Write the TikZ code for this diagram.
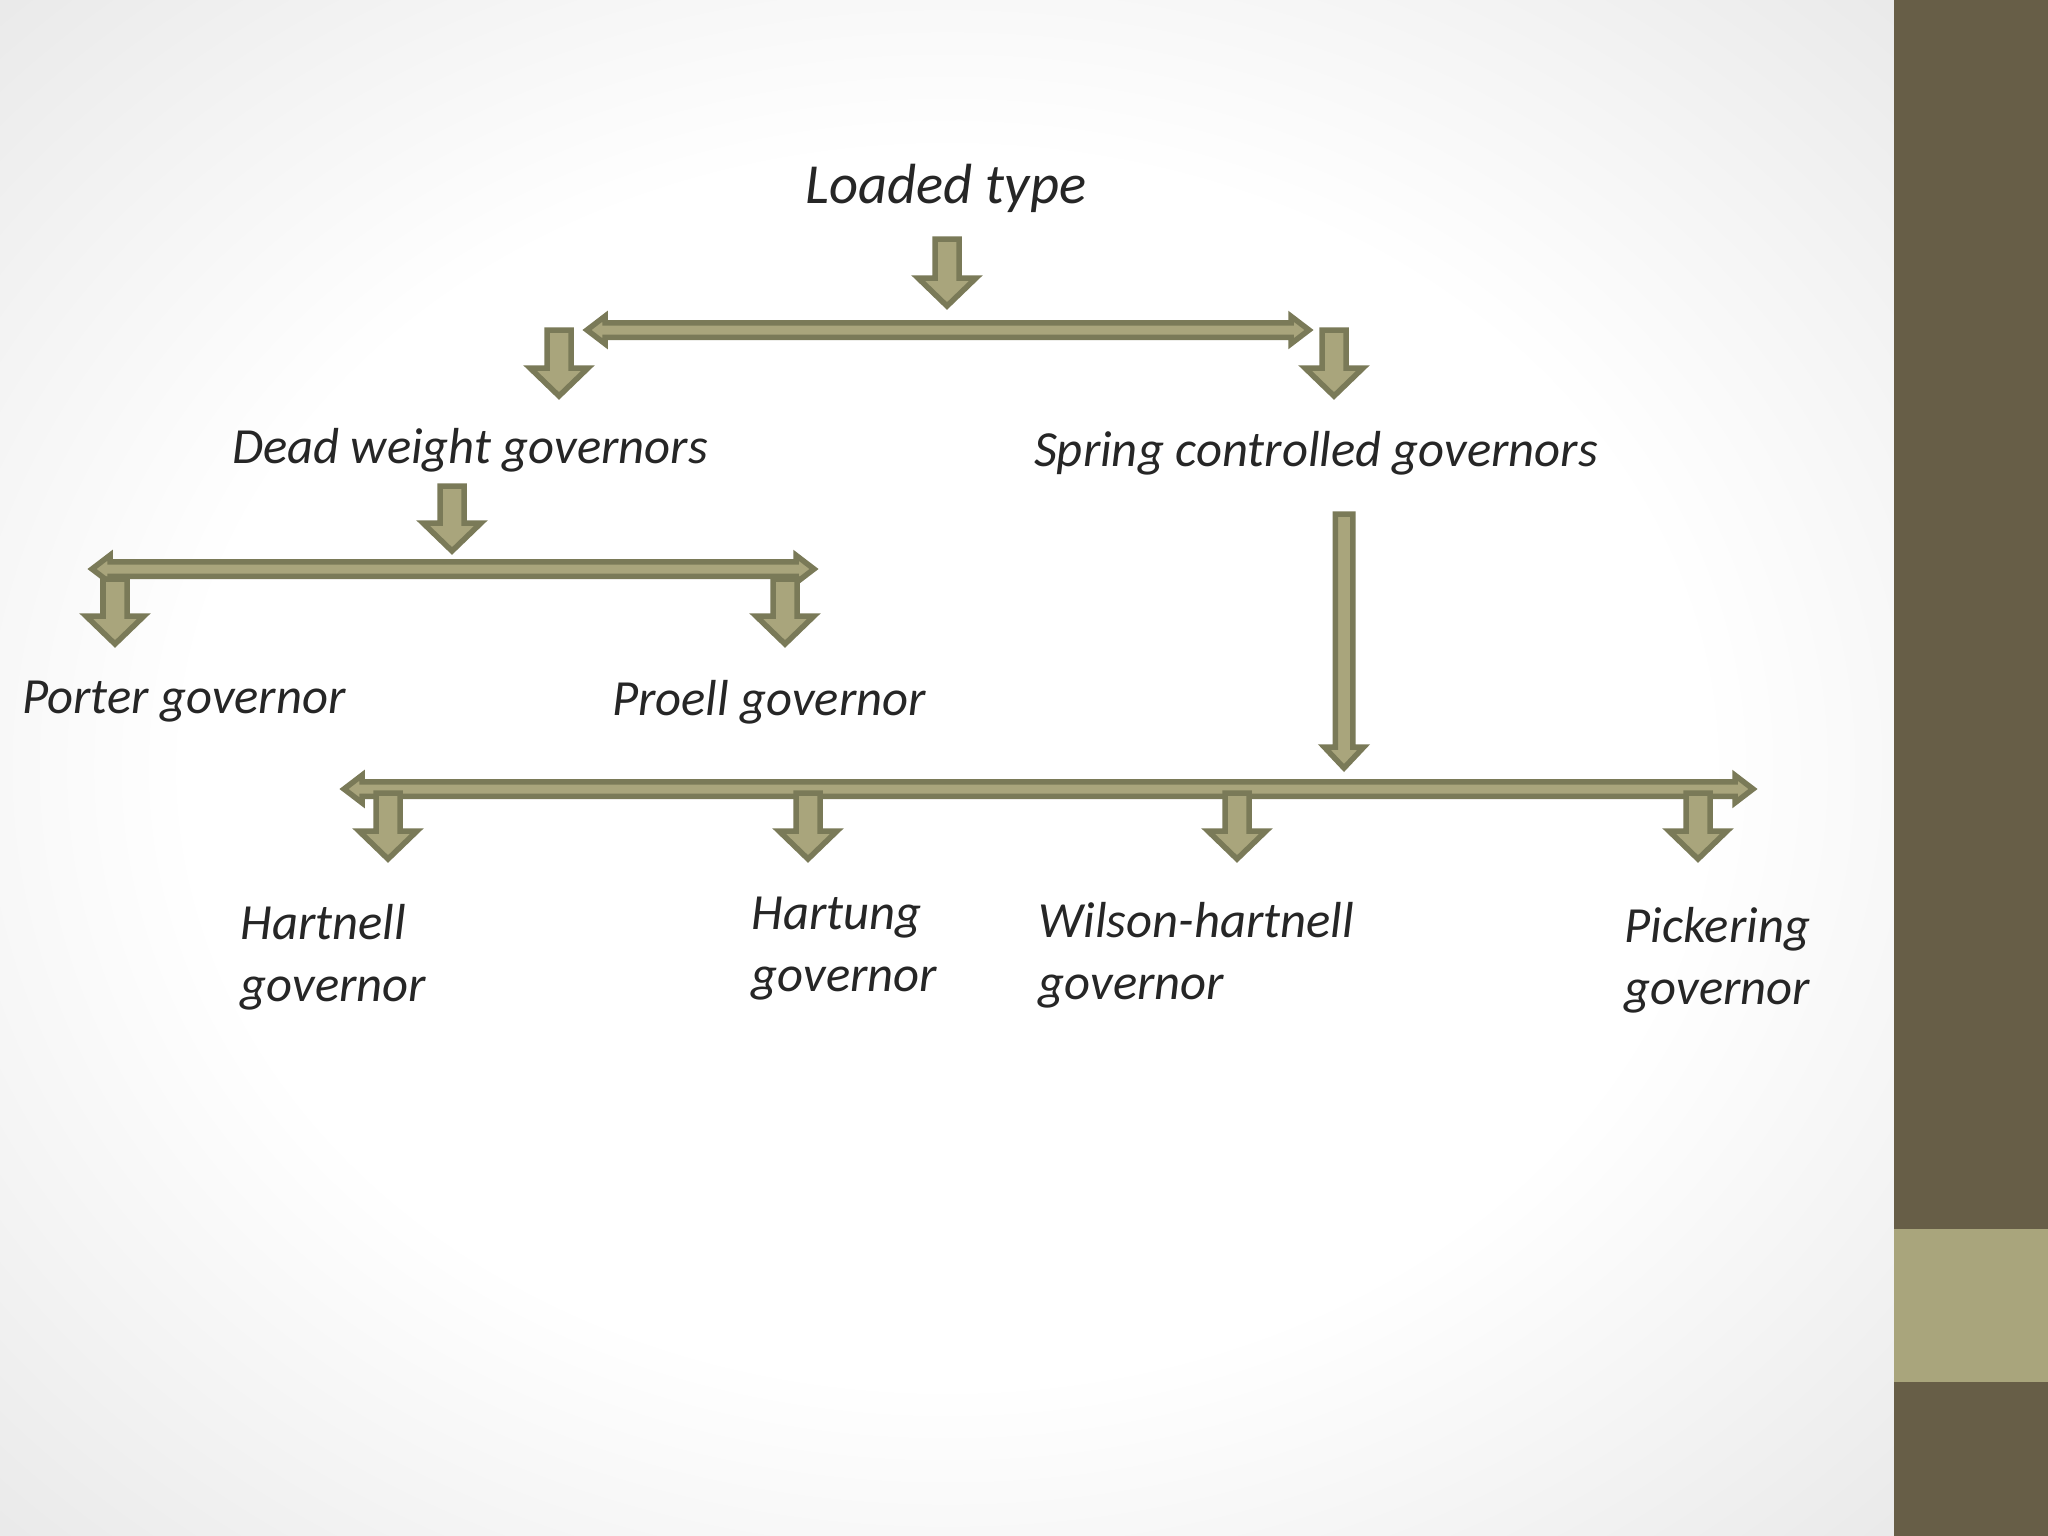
\documentclass[tikz,border=0pt]{standalone}
\usepackage{fontspec}
\setmainfont{Carlito}
\usepackage{xcolor}
\usepackage{tikz}
\usetikzlibrary{
  positioning,
  calc
}
\definecolor{armfill}{HTML}{A9A57C}
\definecolor{armline}{HTML}{7A7A58}
\definecolor{sidedark}{HTML}{675E47}
\definecolor{sidelight}{HTML}{A9A57C}
\definecolor{bggray}{HTML}{E6E6E6}
\definecolor{labeltext}{HTML}{262626}
\pgfdeclareradialshading{slideglow}{\pgfpoint{0bp}{0bp}}{color(0bp)=(white); color(20bp)=(white); color(38bp)=(bggray); color(50bp)=(bggray)}

\tikzset{
  blockarrow/.style={fill=armfill, draw=armline, line width=0.055cm},
  label/.style={font=\fontsize{14.4}{17.6}\selectfont\itshape, text=labeltext, inner sep=0pt},
  toplabel/.style={label, font=\fontsize{16.1}{19.4}\selectfont\itshape}
}

% down block arrow: top point, length
\newcommand{\downblock}[2]{%
  \draw[blockarrow] (#1) ++(-12,0) -- ++(0,#2-28) -- ++(-17,0) -- ++(29,28)
    -- ++(29,-28) -- ++(-17,0) -- ++(0,-#2+28) -- cycle;}
% long thin down block arrow: top point, length
\newcommand{\longblock}[2]{%
  \draw[blockarrow] (#1) ++(-8.75,0) -- ++(0,#2-21) -- ++(-11,0) -- ++(19.75,21)
    -- ++(19.75,-21) -- ++(-11,0) -- ++(0,-#2+21) -- cycle;}
% double headed bar: left tip, length
\newcommand{\hblock}[2]{%
  \draw[blockarrow] (#1) -- ++(18,-13.75) -- ++(0,6.5) -- ++(#2-36,0) -- ++(0,-6.5)
    -- ++(18,13.75) -- ++(-18,13.75) -- ++(0,-6.5) -- ++(-#2+36,0) -- ++(0,6.5) -- cycle;}

\begin{document}
\begin{tikzpicture}[x=0.01cm, y=-0.01cm]
\useasboundingbox (0,0) rectangle (2048,1536);

% slide background
\shade[shading=slideglow] (0,0) rectangle (1894,1536);
\fill[sidedark] (1894,0) rectangle (2048,1536);
\fill[sidelight] (1894,1229) rectangle (2048,1382);

% labels
\node[toplabel] (loaded) at (946,188) {Loaded type};
\node[label] (dead) at (470,450) {Dead weight governors};
\node[label] (spring) at (1316,453) {Spring controlled governors};
\node[label] (porter) at (184,702) {Porter governor};
\node[label] (proell) at (769,702) {Proell governor};
\node[label, align=left, anchor=west] (hartnell) at (240,957) {Hartnell\\governor};
\node[label, align=left, anchor=west] (hartung) at (751,949) {Hartung\\governor};
\node[label, align=left, anchor=west] (wilson) at (1038,955) {Wilson-hartnell\\governor};
\node[label, align=left, anchor=west] (pickering) at (1624,960) {Pickering\\governor};

% arrow anchors
\coordinate (loadedbar) at (587,330);
\coordinate (deadbar) at (92,569);
\coordinate (springbar) at (344,789);
\coordinate (loadeddown) at (947,239);
\coordinate (deaddown) at (559,330);
\coordinate (springdown) at (1334,330);
\coordinate (weightdown) at (452,486);
\coordinate (porterdown) at (115,579);
\coordinate (proelldown) at (785,579);
\coordinate (springlong) at (1344,514);
\coordinate (hartnelldown) at (388,793);
\coordinate (hartungdown) at (808,793);
\coordinate (wilsondown) at (1237,793);
\coordinate (pickeringdown) at (1698,793);

% bars first, down arrows on top
\hblock{loadedbar}{722}
\hblock{deadbar}{722}
\hblock{springbar}{1409}

\downblock{loadeddown}{67}
\downblock{deaddown}{66}
\downblock{springdown}{66}
\downblock{weightdown}{65}
\downblock{porterdown}{65}
\downblock{proelldown}{65}
\longblock{springlong}{254}
\downblock{hartnelldown}{66}
\downblock{hartungdown}{66}
\downblock{wilsondown}{66}
\downblock{pickeringdown}{66}
\end{tikzpicture}
\end{document}
